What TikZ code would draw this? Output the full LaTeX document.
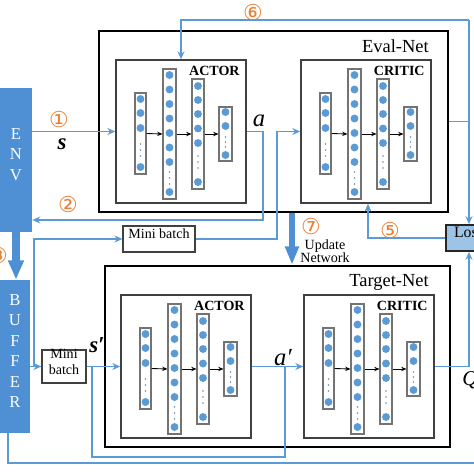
\documentclass[tikz,border=0pt]{standalone}
\usepackage{fontspec}
\setmainfont{Liberation Serif}
\newfontfamily\circfont{DejaVu Sans}
\usetikzlibrary{arrows.meta,fit,positioning}
\definecolor{netblue}{HTML}{5B9BD5}
\definecolor{envblue}{HTML}{4F8FD4}
\definecolor{numorange}{HTML}{ED7D31}
\definecolor{lossblue}{HTML}{9DC3E6}

\newcommand{\netblock}[4]{%
  \node[netbox, fit={(#2,#3) ({#2+130},{#3+143})}] (#1) {};
  \node[nettitle, anchor=base east] (#1-title) at ({#2+124},{#3+15}) {#4};
  \node[layer, fit={({#2+19},{#3+33}) ({#2+30},{#3+114})}] (#1-l1) {};
  \node[layer, fit={({#2+47},{#3+9}) ({#2+60},{#3+139})}] (#1-l2) {};
  \node[layer, fit={({#2+76},{#3+19}) ({#2+88},{#3+129})}] (#1-l3) {};
  \node[layer, fit={({#2+103},{#3+47}) ({#2+116},{#3+101})}] (#1-l4) {};
  \foreach \cx/\cys/\dys in {24.5/{39,53,68,107}/{84,90,96},
      53.5/{15,29.5,44,58.5,73,87.5,102,132}/{112,118,124},
      82/{26,40,54,68.5,83,122}/{96,102,108},
      109.5/{52,66,95}/{77,82,87}} {
    \foreach \cy in \cys
      \fill[netblue] ({#2+\cx},{#3+\cy}) circle (2.25pt);
    \foreach \dy in \dys
      \fill[netblue!60!gray] ({#2+\cx},{#3+\dy}) circle (0.5pt);
  }
  \draw[layerarrow] (#1-l1.east) -- (#1-l2.west);
  \draw[layerarrow] (#1-l2.east) -- (#1-l3.west);
  \draw[layerarrow] (#1-l3.east) -- (#1-l4.west);
}

\begin{document}
\begin{tikzpicture}[x=0.02cm, y=-0.02cm,
  conn/.style={draw=netblue, line width=1pt},
  tip/.style={-{Stealth[length=4.5pt,width=4pt]}},
  fatenv/.style={draw=envblue, line width=4.5pt, -{Triangle[length=11pt,width=8.5pt]}},
  fatupd/.style={draw=envblue, line width=3.8pt, -{Triangle[length=10.5pt,width=7.5pt]}},
  layerarrow/.style={draw=black, line width=0.5pt, -{Stealth[length=3pt,width=2.5pt]}},
  frame/.style={draw=black, line width=1.4pt, inner sep=0pt},
  netbox/.style={draw=black!75, line width=0.9pt, inner sep=0pt},
  layer/.style={draw=black!55, line width=0.6pt, fill=white, inner sep=0pt},
  nettitle/.style={font=\fontsize{8}{9}\selectfont\bfseries, inner sep=0pt},
  framelbl/.style={font=\fontsize{10.5}{12}\selectfont, inner sep=0pt},
  num/.style={text=numorange, font=\circfont\fontsize{12.5}{13}\selectfont, inner sep=0pt},
  var/.style={font=\fontsize{14}{14}\selectfont\itshape, inner sep=0pt},
  block/.style={fill=envblue, text=white, inner sep=0pt, align=center,
    font=\fontsize{9.5}{11.7}\selectfont},
  minibox/.style={draw=black!75, line width=0.7pt, fill=white, inner sep=0pt,
    align=center, font=\fontsize{8}{9}\selectfont},
  lossbox/.style={draw=black!85, line width=1pt, fill=lossblue, inner sep=0pt,
    font=\fontsize{9}{10}\selectfont}]
  \useasboundingbox (0,0) rectangle (474,474);

  \node[block, fit={(0,88) (32,232)}] (env) {E\\N\\V};
  \node[block, fit={(0,280) (30,433)}] (buf) {B\\U\\F\\F\\E\\R};
  \node[frame, fit={(99,31) (448,212)}] (evalnet) {};
  \node[frame, fit={(105,266) (450,447)}] (targetnet) {};
  \node[framelbl, anchor=base east] (evallbl) at (429,52) {Eval-Net};
  \node[framelbl, anchor=base east] (targetlbl) at (429,286) {Target-Net};
  \netblock{ea}{116}{60}{ACTOR}
  \netblock{ec}{301}{60}{CRITIC}
  \netblock{ta}{121}{295}{ACTOR}
  \netblock{tc}{304}{295}{CRITIC}
  \node[minibox, fit={(123,226) (195,252)}] (ub) {Mini batch};
  \node[minibox, fit={(42,350) (86,383)}] (lb) {Mini\\batch};
  \node[lossbox, fit={(446,225) (492,251)}] (loss) {Loss};

  \coordinate (ajoin) at (263,220);
  \coordinate (split) at (34,0);
  \coordinate (mbx) at (277,0);
  \coordinate (sbr) at (92,457);
  \coordinate (abr) at (285,457);
  \coordinate (qx) at (469,20);
  \coordinate (px) at (181,20);
  \coordinate (lx) at (368,0);
  \coordinate (rb) at (8,463);
  \coordinate (upd) at (292,0);

  \draw[conn,tip] (env.east |- ea.west) -- (ea.west);
  \draw[conn,tip] (ea.east) -| (ajoin) -- (ajoin -| env.east);
  \draw[conn,tip] (buf.east |- lb.west) -- (lb.west);
  \draw[conn,tip] (split |- lb.west) |- (ub.west);
  \draw[conn,tip] (ub.east) -| (mbx |- ec.west) -- (ec.west);
  \draw[conn,tip] (lb.east) -- (ta.west);
  \draw[conn] (sbr |- ta.west) -- (sbr) -- (abr) -- (abr |- tc.west);
  \draw[conn,tip] (ta.east) -- (tc.west);
  \draw[conn,tip] (tc.east) -| (loss.south);
  \draw[conn] (evalnet.east) -- (evalnet.east -| qx);
  \draw[conn,tip] (qx) -- (loss.north);
  \draw[conn,tip] (qx) -- (px) -- (ea.north);
  \draw[conn,tip] (loss.west) -| (lx |- ec.south);
  \draw[conn] (buf.south -| rb) -- (rb) -- (rb -| loss.east);
  \draw[fatenv] (env.south) -- (env.south |- buf.north);
  \draw[fatupd] (upd |- evalnet.south) -- (upd |- targetnet.north);

  \node[num] (n1) at (59,119) {①};
  \node[num] (n2) at (68,204) {②};
  \node[num] (n3) at (-2,255) {③};
  \node[num] (n5) at (390,230) {⑤};
  \node[num] (n6) at (253,12) {⑥};
  \node[num] (n7) at (311,226) {⑦};
  \node[var, font=\fontsize{13}{13}\selectfont\bfseries\itshape, anchor=base] (s) at (62,149) {s};
  \node[var, anchor=base] (a) at (259,126) {a};
  \node[var, font=\fontsize{13}{13}\selectfont\bfseries\itshape, anchor=base] (sp) at (97,352) {s′};
  \node[var, anchor=base] (ap) at (283,365) {a′};
  \node[var, font=\fontsize{12}{12}\selectfont\itshape, anchor=base west] (qp) at (462,385) {Q′};
  \node[font=\fontsize{8}{7.5}\selectfont, align=center, inner sep=0pt] (updlbl) at (325,251) {Update\\Network};
\end{tikzpicture}
\end{document}
